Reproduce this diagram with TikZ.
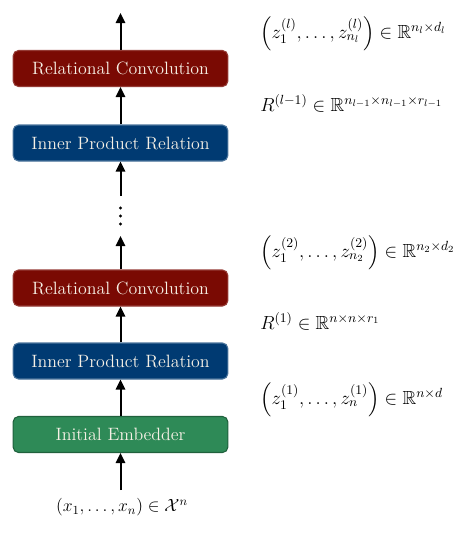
\RequirePackage{fix-cm}
\documentclass[tikz,border=0pt]{standalone}
\usepackage{amsmath}
\usepackage{amssymb}
\usepackage{tikz}
\usetikzlibrary{arrows.meta}

\definecolor{convred}{HTML}{7A0A03}
\definecolor{relblue}{HTML}{003A72}
\definecolor{embgreen}{HTML}{2E8A57}
\definecolor{boxtext}{HTML}{F7F1E6}

\begin{document}
\begin{tikzpicture}[
  x=0.75pt, y=-0.75pt,
  block/.style={rectangle, rounded corners=4pt, minimum width=161pt, minimum height=27pt,
    inner sep=0pt, text=boxtext, font=\fontsize{13.4}{16}\selectfont, line width=0.8pt},
  conv/.style={block, fill=convred, draw=convred!80!white},
  rel/.style={block, fill=relblue, draw=relblue!70!white},
  emb/.style={block, fill=embgreen, draw=embgreen!70!black},
  flow/.style={line width=1.5pt, -{Triangle[width=7pt,length=7.5pt]}},
  shape label/.style={anchor=west, inner sep=0pt, font=\fontsize{14.2}{17}\selectfont}
]
  \useasboundingbox (0,0) rectangle (474,533);

  %% Blocks
  \node[conv] (convtop) at (120.5,68.5) {Relational Convolution};
  \node[rel] (reltop) at (120.5,143) {Inner Product Relation};
  \node[conv] (convone) at (120.5,288) {Relational Convolution};
  \node[rel] (relone) at (120.5,361) {Inner Product Relation};
  \node[emb] (embed) at (120.5,434.5) {Initial Embedder};

  %% Input and open ends
  \node[inner sep=0pt, font=\fontsize{13.2}{16}\selectfont] (input) at (122,507)
    {$(x_1,\dots,x_n)\in\mathcal{X}^n$};
  \coordinate (in) at (120.5,490);
  \coordinate (out) at (120.5,13);
  \coordinate (gapin) at (120.5,236);
  \coordinate (gapout) at (120.5,196);
  \foreach \y in {208,216,224}
    \fill (120.5,\y) circle (1.3pt);

  %% Edges
  \draw[flow] (in) -- (embed);
  \draw[flow] (embed) -- (relone);
  \draw[flow] (relone) -- (convone);
  \draw[flow] (convone) -- (gapin);
  \draw[flow] (gapout) -- (reltop);
  \draw[flow] (reltop) -- (convtop);
  \draw[flow] (convtop) -- (out);

  %% Shapes
  \node[shape label] (zl) at (260,34) {$\left(z_1^{(l)},\dots,z_{n_l}^{(l)}\right)\in\mathbb{R}^{n_l\times d_l}$};
  \node[shape label] (rl) at (260,103) {$R^{(l-1)}\in\mathbb{R}^{n_{l-1}\times n_{l-1}\times r_{l-1}}$};
  \node[shape label] (ztwo) at (260,253) {$\left(z_1^{(2)},\dots,z_{n_2}^{(2)}\right)\in\mathbb{R}^{n_2\times d_2}$};
  \node[shape label] (rone) at (260,321) {$R^{(1)}\in\mathbb{R}^{n\times n\times r_1}$};
  \node[shape label] (zone) at (260,400) {$\left(z_1^{(1)},\dots,z_n^{(1)}\right)\in\mathbb{R}^{n\times d}$};
\end{tikzpicture}
\end{document}
